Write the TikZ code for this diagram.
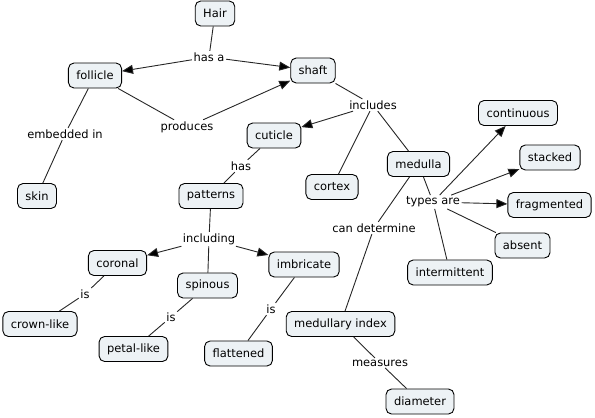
\documentclass[tikz,border=0pt]{standalone}
\usepackage{fontspec}
\setmainfont{DejaVu Sans}
\usetikzlibrary{arrows.meta}
\definecolor{conceptfill}{HTML}{EDF2F5}

\begin{document}
\begin{tikzpicture}[x=1bp, y=-1bp, font=\fontsize{11.5}{13}\selectfont]
	\tikzstyle{concept}=[draw=black, line width=0.9bp, fill=conceptfill, rounded corners=5.5bp, inner xsep=8bp, inner ysep=2bp, minimum height=25bp]
	\tikzstyle{link}=[inner sep=1.5bp]
	\tikzstyle{line}=[draw=black!85, line width=0.9bp]
	\tikzstyle{arrow}=[line, -{Triangle[length=11bp,width=9bp,fill=black]}]
	
	\useasboundingbox (0,0) rectangle (595,417);
	
	% Draw the concepts
	\foreach \name / \x / \y / \txt in {hair/215/13.5/Hair, follicle/95/75.5/follicle, shaft/313/70.5/shaft,
		skin/37/196/skin, cuticle/274/135.5/cuticle, cortex/332/187/cortex, medulla/418.5/164/medulla,
		patterns/211/196/patterns, coronal/117.5/263/coronal, spinous/207.5/285.5/spinous,
		imbricate/304/264.5/imbricate, crownlike/40/324/crown-like, petallike/133.5/349/petal-like,
		flattened/238.5/353.5/flattened, continuous/518/113/continuous, stacked/550/157.5/stacked,
		fragmented/549.5/205/fragmented, absent/522.5/245.5/absent, intermittent/450/272.5/intermittent,
		medindex/340.5/324/medullary index, diameter/420/401.5/diameter}
	\node[concept] (\name) at (\x,\y) {\txt};
	
	% Draw the linking phrases
	\foreach \name / \x / \y / \txt in {hasa/209/57/has a, produces/187/127/produces, embedded/65/134/embedded in,
		includes/373/105/includes, has/241/166/has, including/209/239/including, is1/85/294/is,
		is2/171/317/is, is3/271/309/is, types/433/202/types are, candet/374/228/can determine,
		measures/380/363/measures}
	\node[link] (\name) at (\x,\y) {\txt};
	
	% Connect without heads
	\foreach \source / \dest in {hair/hasa, follicle/produces, follicle/embedded, embedded/skin,
		shaft/includes, includes/cortex, includes/medulla, cuticle/has, has/patterns,
		patterns/including, including/spinous, coronal/is1, is1/crownlike, spinous/is2, is2/petallike,
		imbricate/is3, is3/flattened, medulla/types, types/absent, types/intermittent,
		medulla/candet, candet/medindex, medindex/measures, measures/diameter}
	\path[line] (\source) -- (\dest);
	
	% Connect with heads
	\foreach \source / \dest in {hasa/follicle, hasa/shaft, produces/shaft, includes/cuticle,
		including/coronal, including/imbricate, types/continuous, types/stacked, types/fragmented}
	\path[arrow] (\source) -- (\dest);
	
\end{tikzpicture}
\end{document}
